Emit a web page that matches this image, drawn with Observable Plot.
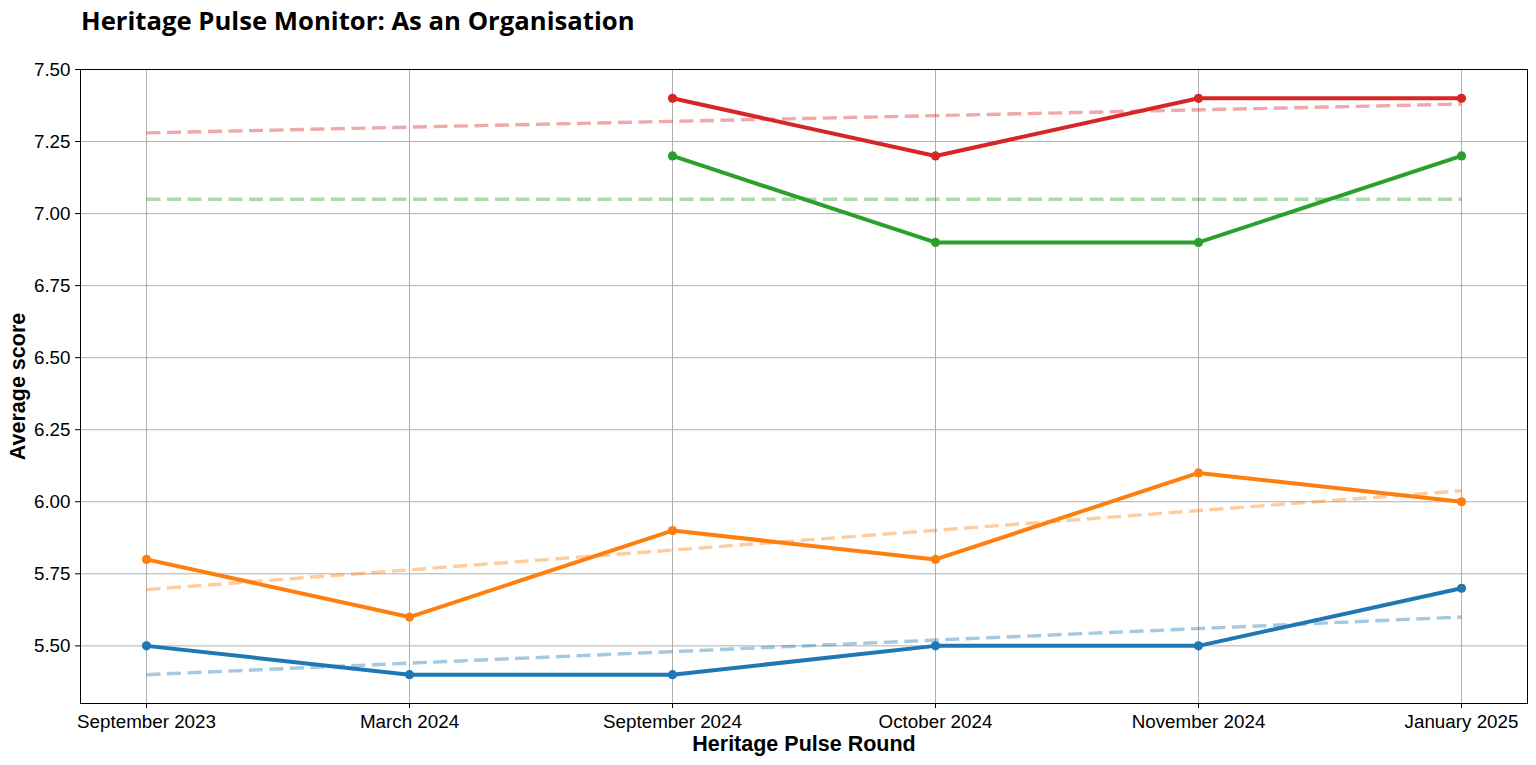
<!DOCTYPE html>
<html>
<head>
<meta charset="utf-8">
<script src="https://cdn.jsdelivr.net/npm/d3@7"></script>
<script src="https://cdn.jsdelivr.net/npm/@observablehq/plot@0.6"></script>
<style>
  body { margin: 0; background: #fff; }
  #title {
    font-family: "Open Sans", "Noto Sans", sans-serif;
    font-weight: 700;
    font-size: 25.7px;
    height: 50px;
    line-height: 42px;
    padding-left: 81px;
    color: #000;
    box-sizing: border-box;
  }
  #chart svg { display: block; }
</style>
</head>
<body>
<div id="title">Heritage Pulse Monitor: As an Organisation</div>
<div id="chart"></div>
<script>
// Survey rounds (x axis categories)
const rounds = ["September 2023", "March 2024", "September 2024", "October 2024", "November 2024", "January 2025"];

// Average score per round for each measure (null = not asked in that round)
const measure1Scores = [5.5, 5.4, 5.4, 5.5, 5.5, 5.7];
const measure2Scores = [5.8, 5.6, 5.9, 5.8, 6.1, 6.0];
const measure3Scores = [null, null, 7.2, 6.9, 6.9, 7.2];
const measure4Scores = [null, null, 7.4, 7.2, 7.4, 7.4];

const seriesKeys   = ["measure1", "measure2", "measure3", "measure4"];
const seriesColors = ["#1f77b4", "#ff7f0e", "#2ca02c", "#d62728"];

// Y axis tick values
const yTicks = [5.50, 5.75, 6.00, 6.25, 6.50, 6.75, 7.00, 7.25, 7.50];

const seriesValues = [measure1Scores, measure2Scores, measure3Scores, measure4Scores];

// Observations in long format
const points = seriesKeys.flatMap((key, s) =>
  seriesValues[s]
    .map((v, i) => ({series: key, round: rounds[i], score: v}))
    .filter(d => d.score != null)
);

// Least-squares trend for each measure, extended across all rounds
const trends = seriesKeys.flatMap((key, s) => {
  const obs = seriesValues[s].map((v, i) => [i, v]).filter(d => d[1] != null);
  const mx = d3.mean(obs, d => d[0]);
  const my = d3.mean(obs, d => d[1]);
  const sxy = d3.sum(obs, d => (d[0] - mx) * (d[1] - my));
  const sxx = d3.sum(obs, d => (d[0] - mx) ** 2);
  const slope = sxy / sxx;
  const at = i => my + slope * (i - mx);
  const last = rounds.length - 1;
  return [
    {series: key, round: rounds[0], score: at(0)},
    {series: key, round: rounds[last], score: at(last)}
  ];
});

const chart = Plot.plot({
  width: 1536,
  height: 715,
  marginTop: 19,
  marginBottom: 62,
  marginLeft: 80,
  marginRight: 9,
  style: {fontFamily: "'Liberation Sans', Arial, sans-serif", fontSize: "18.8px", color: "#000", background: "#fff"},
  x: {type: "point", domain: rounds, padding: 0.25},
  y: {domain: [5.3, 7.5]},
  color: {type: "ordinal", domain: seriesKeys, range: seriesColors},
  marks: [
    Plot.gridX(rounds, {stroke: "#b0b0b0", strokeOpacity: 1, strokeWidth: 1}),
    Plot.gridY(yTicks, {stroke: "#b0b0b0", strokeOpacity: 1, strokeWidth: 1}),
    Plot.line(trends, {
      x: "round", y: "score", z: "series", stroke: "series",
      strokeWidth: 3.4, strokeOpacity: 0.4, strokeDasharray: "14,6.5", strokeLinecap: "butt"
    }),
    Plot.line(points, {x: "round", y: "score", z: "series", stroke: "series", strokeWidth: 4}),
    Plot.dot(points, {x: "round", y: "score", fill: "series", r: 4.6}),
    Plot.frame({stroke: "#000", strokeWidth: 1}),
    Plot.axisY({ticks: yTicks, tickFormat: d3.format(".2f"), tickSize: 5, tickPadding: 5, fontSize: 18.8, label: null}),
    Plot.axisX({tickSize: 5, tickPadding: 6, fontSize: 18.8, label: null}),
    Plot.text(["Average score"], {
      frameAnchor: "left", dx: -62, rotate: -90, textAnchor: "middle", lineAnchor: "middle",
      fontWeight: "bold", fontSize: 21.5, fill: "#000"
    }),
    Plot.text(["Heritage Pulse Round"], {
      frameAnchor: "bottom", dy: 41, lineAnchor: "middle", textAnchor: "middle",
      fontWeight: "bold", fontSize: 21.5, fill: "#000"
    })
  ]
});

document.getElementById("chart").appendChild(chart);
</script>
</body>
</html>
